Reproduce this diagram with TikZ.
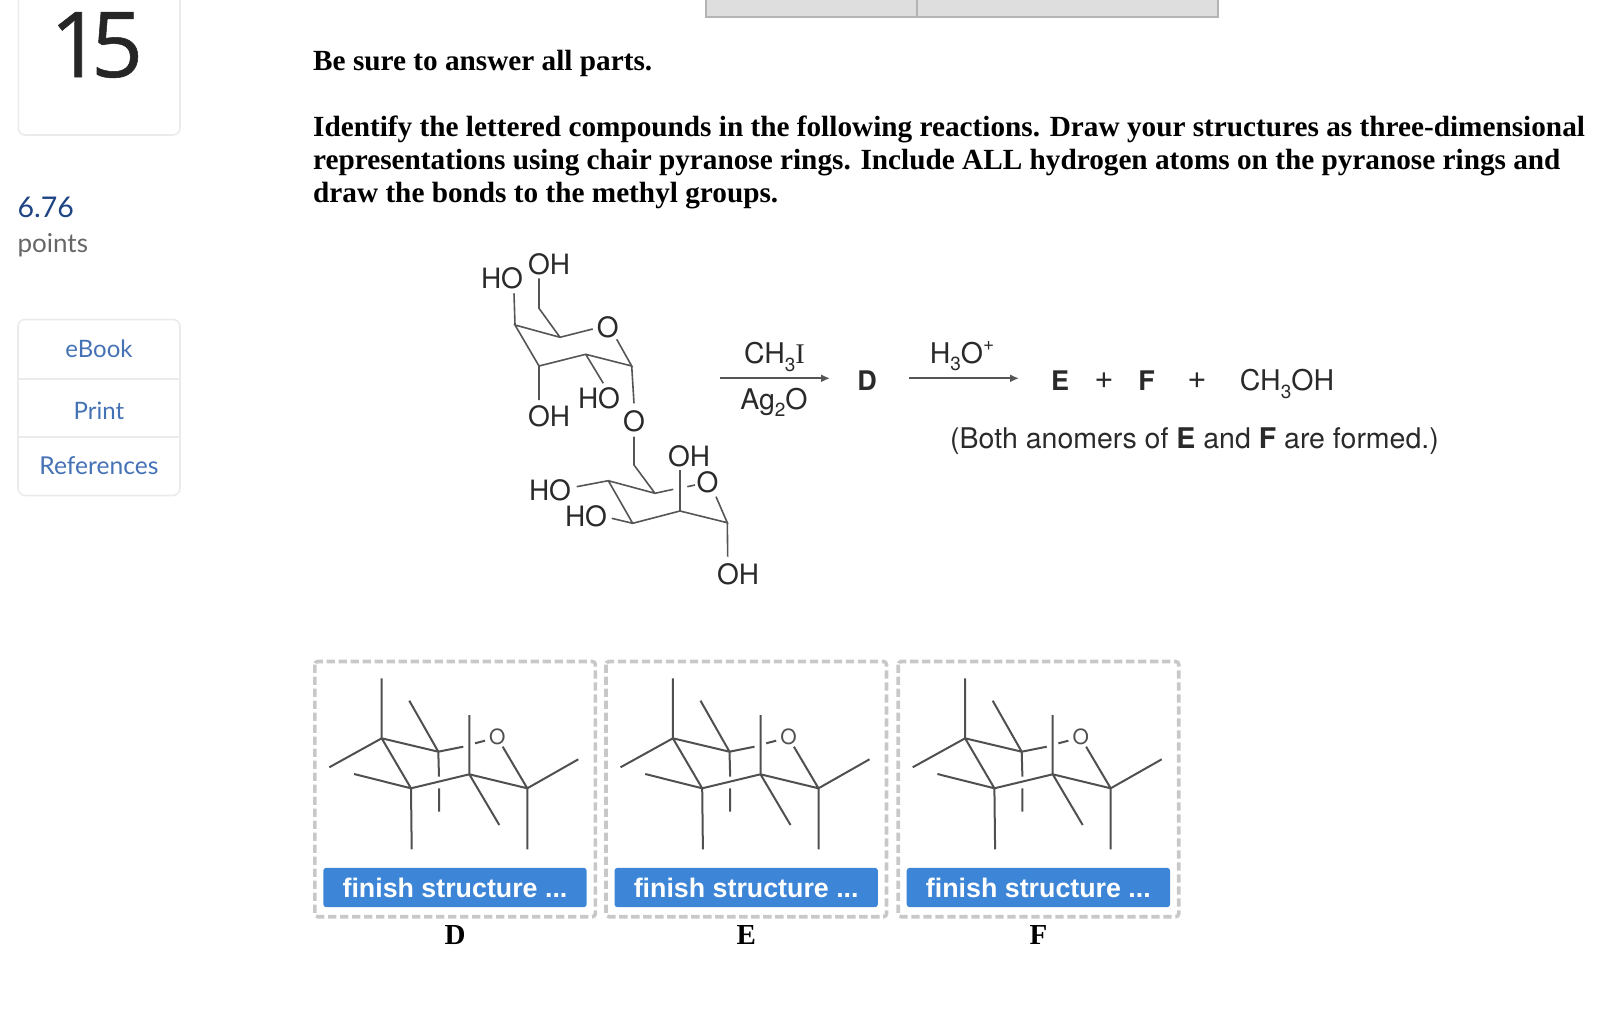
\documentclass[tikz,border=0pt]{standalone}
\usepackage{fontspec}
\setmainfont{Liberation Serif}
\newfontfamily\uifont{Lato}
\newfontfamily\numfont[FakeBold=0.6]{Open Sans}
\newfontfamily\chemfont{TeX Gyre Heros}
\newfontfamily\btnfont{Liberation Sans}
\usetikzlibrary{arrows.meta}
\definecolor{bondgray}{HTML}{555555}
\definecolor{chairgray}{HTML}{505050}
\definecolor{chemtext}{HTML}{2A2A2A}
\definecolor{linkblue}{HTML}{4571B5}
\definecolor{navy}{HTML}{1F4484}
\definecolor{cardline}{HTML}{EBEBEB}
\definecolor{btnblue}{HTML}{3D85D6}
\definecolor{dashgray}{HTML}{C8C8C8}
\definecolor{tabfill}{HTML}{DEDEDE}
\definecolor{tabline}{HTML}{B4B4B4}
\newcommand{\lowsub}[1]{\raisebox{-0.25em}{\fontsize{19}{20}\selectfont #1}}
\tikzset{
  x=1pt,y=-1pt,
  bond/.style={draw=bondgray,line width=1.6pt},
  chairbond/.style={draw=chairgray,line width=2pt},
  card/.style={draw=cardline,line width=1.6pt},
  chem/.style={inner sep=0pt,text=chemtext,font=\chemfont\fontsize{28}{30}\selectfont},
  rxn/.style={inner sep=0pt,text=chemtext,font=\chemfont\fontsize{28.5}{30}\selectfont},
  rxnbold/.style={inner sep=0pt,text=chemtext,font=\chemfont\bfseries\fontsize{27}{30}\selectfont},
  bigplus/.style={inner sep=0pt,text=chemtext,font=\chemfont\fontsize{33}{34}\selectfont},
  bodytxt/.style={inner sep=0pt,anchor=base west,font=\bfseries\fontsize{29.25}{33}\selectfont},
  uitxt/.style={inner sep=0pt,font=\uifont\fontsize{24}{28}\selectfont,text=linkblue},
  btn/.style={fill=btnblue,rounded corners=3pt,minimum width=263.4pt,minimum height=39.4pt,inner sep=0pt,text=white,font=\btnfont\bfseries\fontsize{26.8}{28}\selectfont},
  slot/.style={draw=dashgray,line width=3.6pt,dash pattern=on 8.3pt off 3.7pt,rounded corners=3pt},
  reactarrow/.style={draw=bondgray,line width=2pt,-{Latex[length=9pt,width=8pt]}}
}
\newcommand{\chair}[2]{%
\begin{scope}[xshift=#1]
  \coordinate (a) at (381.7,738.3); \coordinate (b) at (438.3,751.7);
  \coordinate (c) at (411,788.3); \coordinate (d) at (469.3,774.3);
  \coordinate (e) at (527.3,788.3);
  \draw[slot] (314.8,661.5) rectangle (595.3,916.7);
  \path[chairbond] (a) -- (381.7,678.3) (a) -- (329.3,767.3) (a) -- (c) (a) -- (b)
    (b) -- (409.3,700.7) (b) -- (439,776.7) (439,788.3) -- (439,811.7)
    (b) -- (463.3,746.7) (475,743.3) -- (485,740.7) (502.7,746.7) -- (e)
    (d) -- (469.3,715) (d) -- (c) (d) -- (e) (d) -- (499.3,825)
    (c) -- (354,774) (c) -- (411.7,849.3) (e) -- (527.3,849.3) (e) -- (578.3,759.3);
  \node[inner sep=0pt,text=chairgray,font=\chemfont\fontsize{21}{22}\selectfont] (o#2) at (497.3,737.3) {O};
  \node[btn] (btn#2) at (455,887.5) {finish structure ...};
\end{scope}}
\begin{document}
\begin{tikzpicture}
\useasboundingbox (0,0) rectangle (1615,1035);
% top tabs
\draw[fill=tabfill,draw=tabline,line width=2pt] (706,-4) rectangle (917,17) (917,-4) rectangle (1218,17);
% sidebar
\draw[card,rounded corners=7pt] (18.3,-10) -- (18.3,135) -- (180,135) -- (180,-10);
\node[inner sep=0pt,text=black!85,font=\numfont\fontsize{91}{91}\selectfont] (num) at (96.5,45) {1\kern-11pt 5};
\node[inner sep=0pt,anchor=west,text=navy,font=\uifont\fontsize{28.5}{30}\selectfont] (pts) at (17.3,207) {6.76};
\node[inner sep=0pt,anchor=west,text=black!60,font=\uifont\fontsize{26}{30}\selectfont] (ptl) at (17.3,245) {points};
\draw[card,rounded corners=7pt] (18,319.5) -- (180,319.5) -- (180,495.5) -- (18,495.5) -- cycle;
\draw[card] (18,379) -- (180,379) (18,436.7) -- (180,436.7);
\node[uitxt] (eb) at (99,349) {eBook};
\node[uitxt] (pr) at (99,411) {Print};
\node[uitxt,font=\uifont\fontsize{24.6}{28}\selectfont] (rf) at (99,466) {References};
% instructions
\node[bodytxt] (t1) at (313,71) {Be sure to answer all parts.};
\node[bodytxt] (t2) at (313,137) {Identify the lettered compounds in the following reactions. Draw your structures as three-dimensional};
\node[bodytxt] (t3) at (313,170) {representations using chair pyranose rings. Include ALL hydrogen atoms on the pyranose rings and};
\node[bodytxt] (t4) at (313,203) {draw the bonds to the methyl groups.};
% disaccharide
\path[bond] (592.7,329) -- (560,337.3) -- (515,325) -- (539,366) -- (585.7,354.3) -- (631.7,366) -- (616.7,339.3)
  (515,325) -- (514,293.3) (539,278.3) -- (539,308.3) -- (560,337.3)
  (585.7,354.3) -- (603.3,383.3) (539,366) -- (539,400) (631.7,366) -- (634,403.3)
  (634,436.7) -- (634,465) -- (655,493.3)
  (576.7,486.7) -- (608.3,480.7) -- (655,493.3) -- (673.3,489.3) (687.3,486.7) -- (695,485)
  (716,496.7) -- (727.3,522.7) -- (680,511) -- (632.7,523.3) -- (608.3,480.7)
  (611.7,518.3) -- (632.7,523.3)
  (680,470) -- (680,511) (727.3,522.7) -- (727.7,556.7);
\node[chem] (l1) at (502,278) {HO};
\node[chem] (l2) at (549,264) {OH};
\node[chem] (l3) at (607.7,327) {O};
\node[chem] (l4) at (599,398) {HO};
\node[chem] (l5) at (549,416) {OH};
\node[chem] (l6) at (634,421) {O};
\node[chem] (l7) at (689,456) {OH};
\node[chem] (l8) at (707.5,482) {O};
\node[chem] (l9) at (550,490) {HO};
\node[chem] (l10) at (586,516) {HO};
\node[chem] (l11) at (738,574) {OH};
% reaction
\coordinate (r1s) at (720,378.3); \coordinate (r1e) at (830,378.3);
\coordinate (r2s) at (909,378.3); \coordinate (r2e) at (1019,378.3);
\draw[reactarrow] (r1s) -- (r1e);
\draw[reactarrow] (r2s) -- (r2e);
\node[rxn] (c1) at (774.5,357) {CH\lowsub{3}{\rmfamily I}};
\node[rxn] (c2) at (774,402) {Ag\lowsub{2}O};
\node[rxnbold] (pd) at (867,381) {D};
\node[rxn] (c3) at (962,356) {H\lowsub{3}O\raisebox{0.45em}{\fontsize{19}{20}\selectfont +}};
\node[rxnbold] (pe) at (1060,381) {E};
\node[bigplus] (p1) at (1104,381) {+};
\node[rxnbold] (pf) at (1146.5,381) {F};
\node[bigplus] (p2) at (1197,381) {+};
\node[rxn] (pm) at (1287,384) {CH\lowsub{3}OH};
\node[rxn] (note) at (1194.5,441.5) {(Both anomers of \textbf{E} and \textbf{F} are formed.)};
% answer boxes
\chair{0pt}{D}
\chair{291.2pt}{E}
\chair{583.4pt}{F}
\node[inner sep=0pt,font=\bfseries\fontsize{29}{30}\selectfont] (ld) at (455,935) {D};
\node[inner sep=0pt,font=\bfseries\fontsize{29}{30}\selectfont] (le) at (746.2,935) {E};
\node[inner sep=0pt,font=\bfseries\fontsize{29}{30}\selectfont] (lf) at (1038.4,935) {F};
\end{tikzpicture}
\end{document}
